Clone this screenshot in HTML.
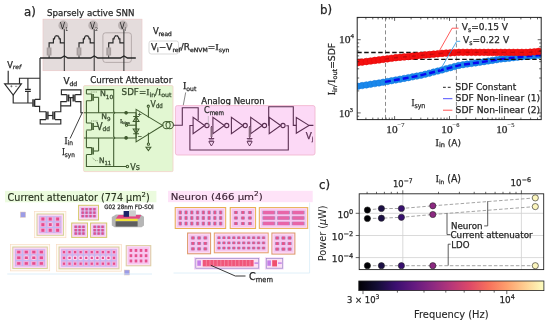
<!DOCTYPE html>
<html><head><meta charset="utf-8"><style>
html,body{margin:0;padding:0;background:#fff;}
body{width:550px;height:323px;overflow:hidden;}
svg{display:block;}
</style></head><body>
<svg width="550" height="323" viewBox="0 0 550 323">
<text x="24" y="15.6" font-size="11.8" font-family="'DejaVu Sans', sans-serif" fill="#262626" text-anchor="start" stroke="#262626" stroke-width="0.25" >a)</text>
<text x="46.9" y="16.2" font-size="9.5" font-family="'DejaVu Sans', sans-serif" fill="#262626" text-anchor="start" textLength="87.6" lengthAdjust="spacingAndGlyphs" stroke="#262626" stroke-width="0.25" >Sparsely active SNN</text>
<rect x="43" y="19.2" width="99" height="51.5" fill="#e4dcdc" stroke="#ebcaca" stroke-width="0.7"/>
<rect x="102.9" y="32.8" width="28.5" height="29.6" rx="2.6" fill="#e5dcdc" stroke="#a99f9f" stroke-width="0.8"/>
<circle cx="63.199999999999996" cy="25.4" r="4.8" fill="#bdb4b4"/>
<line x1="64.3" y1="29.3" x2="64.3" y2="71" stroke="#2a2a2a" stroke-width="1"/>
<text x="60.099999999999994" y="28.9" font-size="8.2" font-family="'DejaVu Sans Condensed', 'DejaVu Sans', sans-serif" fill="#1e1e1e">V<tspan font-size="5.2" dy="1.8">1</tspan></text>
<rect x="46.699999999999996" y="47.5" width="4.8" height="8" fill="#a79e9e"/>
<rect x="48.199999999999996" y="48.5" width="1.8" height="6" fill="#b8b0b0"/>
<path d="M49.099999999999994,47.5 V42.9 H53.39999999999999 V38.9 H54.39999999999999 Q54.599999999999994,35.6 56.849999999999994,35.6 Q59.099999999999994,35.6 59.3,38.9 H60.3 V42.9 H64.3" fill="none" stroke="#262626" stroke-width="1.15"/>
<path d="M55.099999999999994,36 h0.01 M57.099999999999994,35.1 h0.01 M59.099999999999994,36 h0.01" stroke="#e8e0e0" stroke-width="0.8" stroke-linecap="round"/>
<line x1="49.099999999999994" y1="55.5" x2="49.099999999999994" y2="58" stroke="#2a2a2a" stroke-width="0.9"/>
<circle cx="93.10000000000001" cy="25.4" r="4.8" fill="#bdb4b4"/>
<line x1="94.2" y1="29.3" x2="94.2" y2="71" stroke="#2a2a2a" stroke-width="1"/>
<text x="90.0" y="28.9" font-size="8.2" font-family="'DejaVu Sans Condensed', 'DejaVu Sans', sans-serif" fill="#1e1e1e">V<tspan font-size="5.2" dy="1.8">2</tspan></text>
<rect x="76.6" y="47.5" width="4.8" height="8" fill="#a79e9e"/>
<rect x="78.1" y="48.5" width="1.8" height="6" fill="#b8b0b0"/>
<path d="M79.0,47.5 V42.9 H83.3 V38.9 H84.3 Q84.5,35.6 86.75,35.6 Q89.0,35.6 89.2,38.9 H90.2 V42.9 H94.2" fill="none" stroke="#262626" stroke-width="1.15"/>
<path d="M85.0,36 h0.01 M87.0,35.1 h0.01 M89.0,36 h0.01" stroke="#e8e0e0" stroke-width="0.8" stroke-linecap="round"/>
<line x1="79.0" y1="55.5" x2="79.0" y2="58" stroke="#2a2a2a" stroke-width="0.9"/>
<circle cx="122.80000000000001" cy="25.4" r="4.8" fill="#bdb4b4"/>
<line x1="123.9" y1="29.3" x2="123.9" y2="71" stroke="#2a2a2a" stroke-width="1"/>
<text x="119.7" y="28.9" font-size="8.2" font-family="'DejaVu Sans Condensed', 'DejaVu Sans', sans-serif" fill="#1e1e1e">V<tspan font-size="5.2" dy="1.8">i</tspan></text>
<rect x="106.3" y="47.5" width="4.8" height="8" fill="#a79e9e"/>
<rect x="107.8" y="48.5" width="1.8" height="6" fill="#b8b0b0"/>
<path d="M108.7,47.5 V42.9 H113.0 V38.9 H114.0 Q114.2,35.6 116.45,35.6 Q118.7,35.6 118.9,38.9 H119.9 V42.9 H123.9" fill="none" stroke="#262626" stroke-width="1.15"/>
<path d="M114.7,36 h0.01 M116.7,35.1 h0.01 M118.7,36 h0.01" stroke="#e8e0e0" stroke-width="0.8" stroke-linecap="round"/>
<line x1="108.7" y1="55.5" x2="108.7" y2="58" stroke="#2a2a2a" stroke-width="0.9"/>
<path d="M40,58 H60.9 L64.3,55.9 L67.89999999999999,58 H90.8 L94.2,55.9 L97.8,58 H120.5 L123.9,55.9 L127.5,58 H135.8" fill="none" stroke="#262626" stroke-width="1.3"/>
<text x="152.9" y="34.4" font-size="8.7" font-family="'DejaVu Sans Condensed', 'DejaVu Sans', sans-serif" fill="#262626" text-anchor="start" textLength="18.9" lengthAdjust="spacingAndGlyphs" stroke="#262626" stroke-width="0.25" >V<tspan font-size="6.1" dy="1.90">read</tspan></text>
<rect x="149" y="41" width="29.5" height="13" rx="2.2" fill="#fff" stroke="#cfcfcf" stroke-width="0.8"/>
<text x="151" y="49.9" font-size="8.5" font-family="'DejaVu Sans Condensed', 'DejaVu Sans', sans-serif" fill="#262626" text-anchor="start" textLength="78.4" lengthAdjust="spacingAndGlyphs" stroke="#262626" stroke-width="0.25" >V<tspan font-size="5.8" dy="1.90">i</tspan><tspan dy="-1.90">−V</tspan><tspan font-size="5.8" dy="1.90">ref</tspan><tspan dy="-1.90">/R</tspan><tspan font-size="5.8" dy="1.90">eNVM</tspan><tspan dy="-1.90">=</tspan><tspan font-family="Liberation Serif, serif" font-size="9.2">I</tspan><tspan font-size="5.8" dy="1.90">syn</tspan></text>
<text x="7.2" y="67.8" font-size="8.9" font-family="'DejaVu Sans Condensed', 'DejaVu Sans', sans-serif" fill="#262626" text-anchor="start" textLength="13.8" lengthAdjust="spacingAndGlyphs" stroke="#262626" stroke-width="0.25" >V<tspan font-size="5.8" dy="1.60" font-family="'DejaVu Sans'" font-style="italic">ref</tspan></text>
<g stroke="#2a2a2a" stroke-width="1.15" fill="none">
<path d="M8.2,70.8 V83.8"/>
<path d="M4.6,83.8 H21.4 L13.2,95 Z"/>
<path d="M10.3,86.3 h2.2 M11.4,85.2 v2.2 M15,86.3 h2.2" stroke-width="0.5"/>
<path d="M19.5,83.8 V78.2 H40"/>
<path d="M27.9,78.2 V89.1 M25,89.3 H30.8 M25,91.3 H30.8 M27.9,91.4 V103"/>
<path d="M13.2,95 V103 H32.6"/>
<path d="M40,58 V99.4 H35" stroke-width="1.2"/>
<path d="M33,99.3 V106.8" stroke-width="1.5"/>
<path d="M34.6,99.3 V106.8" stroke-width="1.5"/>
<path d="M35,106.4 H39.6 V111.7 H46"/>
<path d="M46.2,111.5 V119.6 M47.9,111.5 V119.6" stroke-width="1.4"/>
<path d="M52.9,111.5 V119.6 M54.6,111.5 V119.6" stroke-width="1.4"/>
<path d="M47.9,115.5 H52.9"/>
<path d="M46,119.6 H40.2 V124 H60.8 V119.6 H55"/>
<path d="M55,111.7 H60.8 V101.6 H66.8"/>
<path d="M67,94.6 V101.6 M68.7,94.6 V101.6" stroke-width="1.4"/>
<path d="M73.2,94.6 V101.6 M74.9,94.6 V101.6" stroke-width="1.4"/>
<path d="M68.7,97.6 H73.2 M70.6,97.6 V105.8 H60.8"/>
<path d="M66.8,94.6 H61.4 V89.8 H80.9 V94.6 H75.2"/>
<path d="M75.2,101.6 H80.9 V112.7 H84"/>
<path d="M82.2,112.7 L70.1,138.5" stroke-width="0.9"/>
</g>
<text x="63.4" y="84" font-size="8.9" font-family="'DejaVu Sans Condensed', 'DejaVu Sans', sans-serif" fill="#262626" text-anchor="start" textLength="13.9" lengthAdjust="spacingAndGlyphs" stroke="#262626" stroke-width="0.25" >V<tspan font-size="6.2" dy="1.60">dd</tspan></text>
<text x="64.5" y="143.7" font-size="9.9" font-family="'Liberation Serif', serif" fill="#262626" text-anchor="start" textLength="8.4" lengthAdjust="spacingAndGlyphs" stroke="#262626" stroke-width="0.25" >I<tspan font-size="6.4" dy="1.70" font-family="'DejaVu Sans', sans-serif">in</tspan></text>
<text x="61.9" y="155" font-size="9.9" font-family="'Liberation Serif', serif" fill="#262626" text-anchor="start" textLength="13" lengthAdjust="spacingAndGlyphs" stroke="#262626" stroke-width="0.25" >I<tspan font-size="6.4" dy="1.70" font-family="'DejaVu Sans', sans-serif">syn</tspan></text>
<text x="90.2" y="82.7" font-size="8.9" font-family="'DejaVu Sans', sans-serif" fill="#262626" text-anchor="start" textLength="82.1" lengthAdjust="spacingAndGlyphs" stroke="#262626" stroke-width="0.25" >Current Attenuator</text>
<rect x="83.6" y="85.6" width="89.4" height="86" rx="1.2" fill="#e2f7d2" stroke="#f3d0c6" stroke-width="0.8"/>
<g stroke="#3f5a2e" stroke-width="1.05" fill="none">
<path d="M86.4,89.6 H113.7 V111.7 q2.2,1.1 0,2.2 V136.8 q2.2,1.1 0,2.2 V166.5"/>
<path d="M86.4,89.6 V93.9 M86.4,100.7 V123 M86.4,130.4 V147.6 M86.4,154.8 V166.5 H126.2"/>
<path d="M84,112.8 H136.1"/>
<path d="M84,137.9 H136.1"/>
<path d="M86.4,93.9 H91.6 M91.6,93.60000000000001 V101.0 M86.4,100.80000000000001 H91.6" />
<path d="M93.1,93.9 V100.80000000000001" stroke-width="1.6"/>
<path d="M93.9,97.30000000000001 H98.6" />
<path d="M86.4,123 H91.6 M91.6,122.7 V130.1 M86.4,129.9 H91.6" />
<path d="M93.1,123 V129.9" stroke-width="1.6"/>
<path d="M93.9,126.4 H98.6" />
<path d="M86.4,147.6 H91.6 M91.6,147.29999999999998 V154.7 M86.4,154.5 H91.6" />
<path d="M93.1,147.6 V154.5" stroke-width="1.6"/>
<path d="M93.9,151.0 H98.6" />
<path d="M98.6,97.3 V112.7 M98.6,137.9 V151"/>
<path d="M90.8,92 H97 M91,121 H97.5 M92.6,157.8 L95,160.6 H97.6" stroke-dasharray="1,0.8" stroke-width="0.6"/>
<circle cx="127.4" cy="166.5" r="1.2" fill="#e2f7d2"/>
<path d="M136.1,109.4 V141.9 L162.6,125.4 Z"/>
<circle cx="126.1" cy="112.8" r="1.3" fill="#3f5a2e"/><circle cx="126.1" cy="137.9" r="1.3" fill="#3f5a2e"/>
<path d="M136.1,112.8 V137.9"/>
<path d="M133.2,121.5 H139 L136.1,116.6 Z M133.2,116.5 H139"/>
<path d="M133.2,128.9 H139 L136.1,133.8 Z M133.2,133.8 H139"/>
<path d="M127.4,125.2 H136.1"/>
<circle cx="126.5" cy="125.2" r="1.1" fill="#e2f7d2"/>
<path d="M148.4,107.3 V117.6 M148.4,132.8 V143.1 M146,147.2 H150.8 L148.4,150.6 Z"/>
<circle cx="148.4" cy="144.2" r="1.1" fill="#e2f7d2"/>
<circle cx="148.3" cy="106.2" r="1.1" fill="#e2f7d2"/>
<circle cx="166.5" cy="125.1" r="3.7"/><circle cx="169.7" cy="125.1" r="3.7"/>
</g>
<text x="137.6" y="116" font-size="5" font-family="'DejaVu Sans', sans-serif" fill="#34472b" text-anchor="start" stroke="#34472b" stroke-width="0.25" >+</text>
<text x="137.8" y="137.6" font-size="5" font-family="'DejaVu Sans', sans-serif" fill="#34472b" text-anchor="start" stroke="#34472b" stroke-width="0.25" >−</text>
<text x="120" y="122.8" font-size="5.8" font-family="'Liberation Serif', serif" fill="#34472b" text-anchor="start" textLength="9.8" lengthAdjust="spacingAndGlyphs" stroke="#34472b" stroke-width="0.25" >I<tspan font-size="4.2" dy="1.20">bias</tspan></text>
<text x="99.9" y="96.4" font-size="7.7" font-family="'DejaVu Sans Condensed', 'DejaVu Sans', sans-serif" fill="#34472b" text-anchor="start" textLength="13.2" lengthAdjust="spacingAndGlyphs" stroke="#34472b" stroke-width="0.25" >N<tspan font-size="5.6" dy="2.20">10</tspan></text>
<text x="101.3" y="118.7" font-size="7.7" font-family="'DejaVu Sans Condensed', 'DejaVu Sans', sans-serif" fill="#34472b" text-anchor="start" textLength="9.3" lengthAdjust="spacingAndGlyphs" stroke="#34472b" stroke-width="0.25" >N<tspan font-size="5.6" dy="2.20">9</tspan></text>
<text x="96.4" y="129.8" font-size="9.6" font-family="'DejaVu Sans Condensed', 'DejaVu Sans', sans-serif" fill="#34472b" text-anchor="start" textLength="13.6" lengthAdjust="spacingAndGlyphs" stroke="#34472b" stroke-width="0.25" >V<tspan font-size="6.4" dy="1.60">dd</tspan></text>
<text x="98.9" y="162.5" font-size="7.7" font-family="'DejaVu Sans Condensed', 'DejaVu Sans', sans-serif" fill="#34472b" text-anchor="start" textLength="12.3" lengthAdjust="spacingAndGlyphs" stroke="#34472b" stroke-width="0.25" >N<tspan font-size="5.6" dy="2.20">11</tspan></text>
<text x="130.2" y="169.7" font-size="9.4" font-family="'DejaVu Sans Condensed', 'DejaVu Sans', sans-serif" fill="#34472b" text-anchor="start" textLength="9.6" lengthAdjust="spacingAndGlyphs" stroke="#34472b" stroke-width="0.25" >Vs</text>
<text x="121.6" y="94.7" font-size="8.4" font-family="'DejaVu Sans', sans-serif" fill="#34472b" text-anchor="start" textLength="49.9" lengthAdjust="spacingAndGlyphs" stroke="#34472b" stroke-width="0.25" >SDF=<tspan font-family="Liberation Serif, serif" font-size="9.2">I</tspan><tspan font-size="6" dy="2.00" font-family="'DejaVu Sans', sans-serif">in</tspan><tspan dy="-2.00">/</tspan><tspan font-family="Liberation Serif, serif" font-size="9.2">I</tspan><tspan font-size="6" dy="2.00" font-family="'DejaVu Sans', sans-serif">out</tspan></text>
<text x="150.6" y="106.6" font-size="9.1" font-family="'DejaVu Sans Condensed', 'DejaVu Sans', sans-serif" fill="#34472b" text-anchor="start" textLength="12.2" lengthAdjust="spacingAndGlyphs" stroke="#34472b" stroke-width="0.25" >V<tspan font-size="6.4" dy="1.80">dd</tspan></text>
<text x="201.3" y="103.5" font-size="8.9" font-family="'DejaVu Sans', sans-serif" fill="#262626" text-anchor="start" textLength="63.5" lengthAdjust="spacingAndGlyphs" stroke="#262626" stroke-width="0.25" >Analog Neuron</text>
<text x="183" y="89.3" font-size="10.2" font-family="'Liberation Serif', serif" fill="#262626" text-anchor="start" textLength="13.3" lengthAdjust="spacingAndGlyphs" stroke="#262626" stroke-width="0.25" >I<tspan font-size="6.2" dy="1.60" font-family="'DejaVu Sans', sans-serif">out</tspan></text>
<path d="M185.7,92.4 L183,106.6" stroke="#555" stroke-width="0.7"/>
<rect x="175.4" y="105.6" width="139.6" height="49.4" rx="2" fill="#fcd9f6" stroke="#f0b2cc" stroke-width="0.8"/>
<g stroke="#5a2f52" stroke-width="1.1" fill="none">
<path d="M173.4,125.2 H182.3 V107.8 H198.2 V120"/>
<path d="M193.1,117.3 V133.6 L204.6,125.5 Z"/>
<circle cx="206.9" cy="125.5" r="2.1"/>
<path d="M212.9,117.3 V133.6 L224.4,125.5 Z"/>
<circle cx="226.70000000000002" cy="125.5" r="2.1"/>
<path d="M231.4,117.3 V133.6 L242.9,125.5 Z"/>
<circle cx="245.20000000000002" cy="125.5" r="2.1"/>
<path d="M250.7,117.3 V133.6 L262.2,125.5 Z"/>
<circle cx="264.5" cy="125.5" r="2.1"/>
<path d="M269.2,117.3 V133.6 L280.7,125.5 Z"/>
<circle cx="283.0" cy="125.5" r="2.1"/>
<path d="M193.1,125.5 H189.9 V150 H288.3 V125.7 H286.3"/>
<path d="M268.7,125.7 V106.8 H293.3 V125.4 H296.3"/>
<path d="M296.3,117.5 V133.3 L309,125.4 Z M309,125.4 H313.4"/>
<path d="M211.5,126 V138.4 M208.6,138.5 H214.2 M209.1,140 H213.7 M208.8,141.6 H214 L211.4,146 Z" stroke-width="0.9"/>
<path d="M211.5,127 V137" stroke="#8a6a80" stroke-width="2"/>
<path d="M249.7,126 V138.4 M246.79999999999998,138.5 H252.39999999999998 M247.29999999999998,140 H251.89999999999998 M247.0,141.6 H252.2 L249.6,146 Z" stroke-width="0.9"/>
<path d="M249.7,127 V137" stroke="#8a6a80" stroke-width="2"/>
</g>
<path d="M208.3,116 V126" stroke="#aaa" stroke-width="0.6"/>
<text x="204" y="113.4" font-size="9.3" font-family="'DejaVu Sans', sans-serif" fill="#262626" text-anchor="start" textLength="20" lengthAdjust="spacingAndGlyphs" stroke="#262626" stroke-width="0.25" >C<tspan font-size="6.4" dy="1.90">mem</tspan></text>
<text x="305.8" y="139.2" font-size="8.8" font-family="'DejaVu Sans Condensed', 'DejaVu Sans', sans-serif" fill="#5a2f52" text-anchor="start" textLength="7.6" lengthAdjust="spacingAndGlyphs" stroke="#5a2f52" stroke-width="0.25" >V<tspan font-size="5.6" dy="1.60">j</tspan></text>
<rect x="5" y="190.9" width="151.4" height="11.4" fill="#ebfbde"/>
<text x="7.6" y="201.1" font-size="9.6" font-family="'DejaVu Sans', sans-serif" fill="#28331f" text-anchor="start" textLength="142.1" lengthAdjust="spacingAndGlyphs" stroke="#28331f" stroke-width="0.15" >Current attenuator (774 µm<tspan font-size="6.8" dy="-3.9">2</tspan><tspan dy="3.9">)</tspan></text>
<rect x="168" y="190.8" width="144.7" height="11.4" fill="#fee3f8"/>
<text x="170.7" y="199.8" font-size="9.5" font-family="'DejaVu Sans', sans-serif" fill="#3a2233" text-anchor="start" textLength="92" lengthAdjust="spacingAndGlyphs" stroke="#3a2233" stroke-width="0.12" >Neuron (466 µm<tspan font-size="6.8" dy="-3.9">2</tspan><tspan dy="3.9">)</tspan></text>
<text x="104.2" y="209.1" font-size="6.0" font-family="'DejaVu Sans', sans-serif" fill="#262626" text-anchor="start" textLength="49.4" lengthAdjust="spacingAndGlyphs" stroke="#262626" stroke-width="0.25" >G02 28nm FD-SOI</text>
<rect x="20.4" y="212" width="5.2" height="5.3" fill="#9c9ce6" stroke="#e2c8b4" stroke-width="0.5"/>
<rect x="34.6" y="211.6" width="31.3" height="26.100000000000012" fill="#fffaf4" stroke="#f8dcc2" stroke-width="0.7"/>
<rect x="37" y="214" width="26.5" height="21.30000000000001" fill="#f7c6ef" stroke="#d6d59a" stroke-width="1"/>
<rect x="38.2" y="215.2" width="24.1" height="18.900000000000013" fill="none" stroke="#fde6f8" stroke-width="0.7"/>
<rect x="39.20" y="216.20" width="22.10" height="16.90" fill="#c0b8f4"/>
<rect x="39.94" y="216.76" width="5.89" height="4.51" fill="#f2b0dc"/>
<rect x="39.94" y="222.40" width="5.89" height="4.51" fill="#f2b0dc"/>
<rect x="39.94" y="228.03" width="5.89" height="4.51" fill="#f2b0dc"/>
<rect x="47.30" y="216.76" width="5.89" height="4.51" fill="#f2b0dc"/>
<rect x="47.30" y="222.40" width="5.89" height="4.51" fill="#f2b0dc"/>
<circle cx="50.25" cy="224.65" r="2.37" fill="#fbd8f2"/>
<rect x="47.30" y="228.03" width="5.89" height="4.51" fill="#f2b0dc"/>
<rect x="54.67" y="216.76" width="5.89" height="4.51" fill="#f2b0dc"/>
<rect x="54.67" y="222.40" width="5.89" height="4.51" fill="#f2b0dc"/>
<rect x="54.67" y="228.03" width="5.89" height="4.51" fill="#f2b0dc"/>
<rect x="41.38" y="217.52" width="3.00" height="3.00" fill="#e64b8e"/>
<rect x="41.38" y="223.15" width="3.00" height="3.00" fill="#e64b8e"/>
<rect x="41.38" y="228.78" width="3.00" height="3.00" fill="#e64b8e"/>
<rect x="48.75" y="217.52" width="3.00" height="3.00" fill="#e64b8e"/>
<rect x="48.75" y="223.15" width="3.00" height="3.00" fill="#e64b8e"/>
<rect x="48.75" y="228.78" width="3.00" height="3.00" fill="#e64b8e"/>
<rect x="56.12" y="217.52" width="3.00" height="3.00" fill="#e64b8e"/>
<rect x="56.12" y="223.15" width="3.00" height="3.00" fill="#e64b8e"/>
<rect x="56.12" y="228.78" width="3.00" height="3.00" fill="#e64b8e"/>
<rect x="78.6" y="205.3" width="19.900000000000006" height="14.699999999999989" fill="#f7c6ef" stroke="#d4cc6c" stroke-width="1"/>
<rect x="79.8" y="206.5" width="17.500000000000007" height="12.299999999999988" fill="none" stroke="#fde6f8" stroke-width="0.7"/>
<rect x="80.99" y="208.02" width="3.50" height="2.40" fill="#a8a0d8"/>
<rect x="81.69" y="208.02" width="2.10" height="2.40" fill="#e64b8e"/>
<rect x="80.99" y="211.45" width="3.50" height="2.40" fill="#a8a0d8"/>
<rect x="81.69" y="211.45" width="2.10" height="2.40" fill="#e64b8e"/>
<rect x="80.99" y="214.88" width="3.50" height="2.40" fill="#a8a0d8"/>
<rect x="81.69" y="214.88" width="2.10" height="2.40" fill="#e64b8e"/>
<rect x="84.86" y="208.02" width="3.50" height="2.40" fill="#a8a0d8"/>
<rect x="85.56" y="208.02" width="2.10" height="2.40" fill="#e64b8e"/>
<rect x="84.86" y="211.45" width="3.50" height="2.40" fill="#a8a0d8"/>
<rect x="85.56" y="211.45" width="2.10" height="2.40" fill="#e64b8e"/>
<rect x="84.86" y="214.88" width="3.50" height="2.40" fill="#a8a0d8"/>
<rect x="85.56" y="214.88" width="2.10" height="2.40" fill="#e64b8e"/>
<rect x="88.74" y="208.02" width="3.50" height="2.40" fill="#a8a0d8"/>
<rect x="89.44" y="208.02" width="2.10" height="2.40" fill="#e64b8e"/>
<rect x="88.74" y="211.45" width="3.50" height="2.40" fill="#a8a0d8"/>
<rect x="89.44" y="211.45" width="2.10" height="2.40" fill="#e64b8e"/>
<rect x="88.74" y="214.88" width="3.50" height="2.40" fill="#a8a0d8"/>
<rect x="89.44" y="214.88" width="2.10" height="2.40" fill="#e64b8e"/>
<rect x="92.61" y="208.02" width="3.50" height="2.40" fill="#a8a0d8"/>
<rect x="93.31" y="208.02" width="2.10" height="2.40" fill="#e64b8e"/>
<rect x="92.61" y="211.45" width="3.50" height="2.40" fill="#a8a0d8"/>
<rect x="93.31" y="211.45" width="2.10" height="2.40" fill="#e64b8e"/>
<rect x="92.61" y="214.88" width="3.50" height="2.40" fill="#a8a0d8"/>
<rect x="93.31" y="214.88" width="2.10" height="2.40" fill="#e64b8e"/>
<rect x="71.7" y="223" width="15.799999999999997" height="14.400000000000006" fill="#f7c6ef" stroke="#d4cc6c" stroke-width="1"/>
<rect x="72.9" y="224.2" width="13.399999999999997" height="12.000000000000005" fill="none" stroke="#fde6f8" stroke-width="0.7"/>
<rect x="74.05" y="225.67" width="3.50" height="2.40" fill="#a8a0d8"/>
<rect x="74.75" y="225.67" width="2.10" height="2.40" fill="#e64b8e"/>
<rect x="74.05" y="229.00" width="3.50" height="2.40" fill="#a8a0d8"/>
<rect x="74.75" y="229.00" width="2.10" height="2.40" fill="#e64b8e"/>
<rect x="74.05" y="232.33" width="3.50" height="2.40" fill="#a8a0d8"/>
<rect x="74.75" y="232.33" width="2.10" height="2.40" fill="#e64b8e"/>
<rect x="77.85" y="225.67" width="3.50" height="2.40" fill="#a8a0d8"/>
<rect x="78.55" y="225.67" width="2.10" height="2.40" fill="#e64b8e"/>
<rect x="77.85" y="229.00" width="3.50" height="2.40" fill="#a8a0d8"/>
<rect x="78.55" y="229.00" width="2.10" height="2.40" fill="#e64b8e"/>
<rect x="77.85" y="232.33" width="3.50" height="2.40" fill="#a8a0d8"/>
<rect x="78.55" y="232.33" width="2.10" height="2.40" fill="#e64b8e"/>
<rect x="81.65" y="225.67" width="3.50" height="2.40" fill="#a8a0d8"/>
<rect x="82.35" y="225.67" width="2.10" height="2.40" fill="#e64b8e"/>
<rect x="81.65" y="229.00" width="3.50" height="2.40" fill="#a8a0d8"/>
<rect x="82.35" y="229.00" width="2.10" height="2.40" fill="#e64b8e"/>
<rect x="81.65" y="232.33" width="3.50" height="2.40" fill="#a8a0d8"/>
<rect x="82.35" y="232.33" width="2.10" height="2.40" fill="#e64b8e"/>
<rect x="90.6" y="223" width="16.10000000000001" height="14.400000000000006" fill="#f7c6ef" stroke="#d4cc6c" stroke-width="1"/>
<rect x="91.8" y="224.2" width="13.700000000000008" height="12.000000000000005" fill="none" stroke="#fde6f8" stroke-width="0.7"/>
<rect x="93.00" y="225.67" width="3.50" height="2.40" fill="#a8a0d8"/>
<rect x="93.70" y="225.67" width="2.10" height="2.40" fill="#e64b8e"/>
<rect x="93.00" y="229.00" width="3.50" height="2.40" fill="#a8a0d8"/>
<rect x="93.70" y="229.00" width="2.10" height="2.40" fill="#e64b8e"/>
<rect x="93.00" y="232.33" width="3.50" height="2.40" fill="#a8a0d8"/>
<rect x="93.70" y="232.33" width="2.10" height="2.40" fill="#e64b8e"/>
<rect x="96.90" y="225.67" width="3.50" height="2.40" fill="#a8a0d8"/>
<rect x="97.60" y="225.67" width="2.10" height="2.40" fill="#e64b8e"/>
<rect x="96.90" y="229.00" width="3.50" height="2.40" fill="#a8a0d8"/>
<rect x="97.60" y="229.00" width="2.10" height="2.40" fill="#e64b8e"/>
<rect x="96.90" y="232.33" width="3.50" height="2.40" fill="#a8a0d8"/>
<rect x="97.60" y="232.33" width="2.10" height="2.40" fill="#e64b8e"/>
<rect x="100.80" y="225.67" width="3.50" height="2.40" fill="#a8a0d8"/>
<rect x="101.50" y="225.67" width="2.10" height="2.40" fill="#e64b8e"/>
<rect x="100.80" y="229.00" width="3.50" height="2.40" fill="#a8a0d8"/>
<rect x="101.50" y="229.00" width="2.10" height="2.40" fill="#e64b8e"/>
<rect x="100.80" y="232.33" width="3.50" height="2.40" fill="#a8a0d8"/>
<rect x="101.50" y="232.33" width="2.10" height="2.40" fill="#e64b8e"/>
<rect x="10.4" y="244.6" width="39.3" height="26.3" fill="#fffaf4" stroke="#f8dcc2" stroke-width="0.7"/>
<rect x="12.8" y="247" width="34.5" height="21.5" fill="#f7c6ef" stroke="#d6d59a" stroke-width="1"/>
<rect x="14.0" y="248.2" width="32.1" height="19.1" fill="none" stroke="#fde6f8" stroke-width="0.7"/>
<rect x="15.00" y="249.20" width="30.10" height="17.10" fill="#c0b8f4"/>
<rect x="15.75" y="249.77" width="6.02" height="4.56" fill="#f2b0dc"/>
<rect x="15.75" y="255.47" width="6.02" height="4.56" fill="#f2b0dc"/>
<rect x="15.75" y="261.17" width="6.02" height="4.56" fill="#f2b0dc"/>
<rect x="23.28" y="249.77" width="6.02" height="4.56" fill="#f2b0dc"/>
<rect x="23.28" y="255.47" width="6.02" height="4.56" fill="#f2b0dc"/>
<circle cx="26.29" cy="257.75" r="2.39" fill="#fbd8f2"/>
<rect x="23.28" y="261.17" width="6.02" height="4.56" fill="#f2b0dc"/>
<rect x="30.80" y="249.77" width="6.02" height="4.56" fill="#f2b0dc"/>
<rect x="30.80" y="255.47" width="6.02" height="4.56" fill="#f2b0dc"/>
<circle cx="33.81" cy="257.75" r="2.39" fill="#fbd8f2"/>
<rect x="30.80" y="261.17" width="6.02" height="4.56" fill="#f2b0dc"/>
<rect x="38.33" y="249.77" width="6.02" height="4.56" fill="#f2b0dc"/>
<rect x="38.33" y="255.47" width="6.02" height="4.56" fill="#f2b0dc"/>
<rect x="38.33" y="261.17" width="6.02" height="4.56" fill="#f2b0dc"/>
<rect x="17.16" y="250.75" width="3.20" height="2.60" fill="#e64b8e"/>
<rect x="17.16" y="256.45" width="3.20" height="2.60" fill="#e64b8e"/>
<rect x="17.16" y="262.15" width="3.20" height="2.60" fill="#e64b8e"/>
<rect x="24.69" y="250.75" width="3.20" height="2.60" fill="#e64b8e"/>
<rect x="24.69" y="256.45" width="3.20" height="2.60" fill="#e64b8e"/>
<rect x="24.69" y="262.15" width="3.20" height="2.60" fill="#e64b8e"/>
<rect x="32.21" y="250.75" width="3.20" height="2.60" fill="#e64b8e"/>
<rect x="32.21" y="256.45" width="3.20" height="2.60" fill="#e64b8e"/>
<rect x="32.21" y="262.15" width="3.20" height="2.60" fill="#e64b8e"/>
<rect x="39.74" y="250.75" width="3.20" height="2.60" fill="#e64b8e"/>
<rect x="39.74" y="256.45" width="3.20" height="2.60" fill="#e64b8e"/>
<rect x="39.74" y="262.15" width="3.20" height="2.60" fill="#e64b8e"/>
<rect x="56.6" y="244.6" width="64.8" height="26.600000000000012" fill="#fffaf4" stroke="#f8dcc2" stroke-width="0.7"/>
<rect x="59" y="247" width="60" height="21.80000000000001" fill="#f7c6ef" stroke="#d6d59a" stroke-width="1"/>
<rect x="60.2" y="248.2" width="57.6" height="19.400000000000013" fill="none" stroke="#fde6f8" stroke-width="0.7"/>
<rect x="61.20" y="249.20" width="55.60" height="17.40" fill="#c0b8f4"/>
<rect x="61.76" y="249.78" width="4.45" height="4.64" fill="#f2b0dc"/>
<rect x="61.76" y="255.58" width="4.45" height="4.64" fill="#f2b0dc"/>
<rect x="61.76" y="261.38" width="4.45" height="4.64" fill="#f2b0dc"/>
<rect x="67.32" y="249.78" width="4.45" height="4.64" fill="#f2b0dc"/>
<rect x="67.32" y="255.58" width="4.45" height="4.64" fill="#f2b0dc"/>
<circle cx="69.54" cy="257.90" r="2.34" fill="#fbd8f2"/>
<rect x="67.32" y="261.38" width="4.45" height="4.64" fill="#f2b0dc"/>
<rect x="72.88" y="249.78" width="4.45" height="4.64" fill="#f2b0dc"/>
<rect x="72.88" y="255.58" width="4.45" height="4.64" fill="#f2b0dc"/>
<circle cx="75.10" cy="257.90" r="2.34" fill="#fbd8f2"/>
<rect x="72.88" y="261.38" width="4.45" height="4.64" fill="#f2b0dc"/>
<rect x="78.44" y="249.78" width="4.45" height="4.64" fill="#f2b0dc"/>
<rect x="78.44" y="255.58" width="4.45" height="4.64" fill="#f2b0dc"/>
<circle cx="80.66" cy="257.90" r="2.34" fill="#fbd8f2"/>
<rect x="78.44" y="261.38" width="4.45" height="4.64" fill="#f2b0dc"/>
<rect x="84.00" y="249.78" width="4.45" height="4.64" fill="#f2b0dc"/>
<rect x="84.00" y="255.58" width="4.45" height="4.64" fill="#f2b0dc"/>
<circle cx="86.22" cy="257.90" r="2.34" fill="#fbd8f2"/>
<rect x="84.00" y="261.38" width="4.45" height="4.64" fill="#f2b0dc"/>
<rect x="89.56" y="249.78" width="4.45" height="4.64" fill="#f2b0dc"/>
<rect x="89.56" y="255.58" width="4.45" height="4.64" fill="#f2b0dc"/>
<circle cx="91.78" cy="257.90" r="2.34" fill="#fbd8f2"/>
<rect x="89.56" y="261.38" width="4.45" height="4.64" fill="#f2b0dc"/>
<rect x="95.12" y="249.78" width="4.45" height="4.64" fill="#f2b0dc"/>
<rect x="95.12" y="255.58" width="4.45" height="4.64" fill="#f2b0dc"/>
<circle cx="97.34" cy="257.90" r="2.34" fill="#fbd8f2"/>
<rect x="95.12" y="261.38" width="4.45" height="4.64" fill="#f2b0dc"/>
<rect x="100.68" y="249.78" width="4.45" height="4.64" fill="#f2b0dc"/>
<rect x="100.68" y="255.58" width="4.45" height="4.64" fill="#f2b0dc"/>
<circle cx="102.90" cy="257.90" r="2.34" fill="#fbd8f2"/>
<rect x="100.68" y="261.38" width="4.45" height="4.64" fill="#f2b0dc"/>
<rect x="106.24" y="249.78" width="4.45" height="4.64" fill="#f2b0dc"/>
<rect x="106.24" y="255.58" width="4.45" height="4.64" fill="#f2b0dc"/>
<circle cx="108.46" cy="257.90" r="2.34" fill="#fbd8f2"/>
<rect x="106.24" y="261.38" width="4.45" height="4.64" fill="#f2b0dc"/>
<rect x="111.80" y="249.78" width="4.45" height="4.64" fill="#f2b0dc"/>
<rect x="111.80" y="255.58" width="4.45" height="4.64" fill="#f2b0dc"/>
<rect x="111.80" y="261.38" width="4.45" height="4.64" fill="#f2b0dc"/>
<rect x="62.88" y="251.00" width="2.20" height="2.20" fill="#e64b8e"/>
<rect x="62.88" y="256.80" width="2.20" height="2.20" fill="#e64b8e"/>
<rect x="62.88" y="262.60" width="2.20" height="2.20" fill="#e64b8e"/>
<rect x="68.44" y="251.00" width="2.20" height="2.20" fill="#e64b8e"/>
<rect x="68.44" y="256.80" width="2.20" height="2.20" fill="#e64b8e"/>
<rect x="68.44" y="262.60" width="2.20" height="2.20" fill="#e64b8e"/>
<rect x="74.00" y="251.00" width="2.20" height="2.20" fill="#e64b8e"/>
<rect x="74.00" y="256.80" width="2.20" height="2.20" fill="#e64b8e"/>
<rect x="74.00" y="262.60" width="2.20" height="2.20" fill="#e64b8e"/>
<rect x="79.56" y="251.00" width="2.20" height="2.20" fill="#e64b8e"/>
<rect x="79.56" y="256.80" width="2.20" height="2.20" fill="#e64b8e"/>
<rect x="79.56" y="262.60" width="2.20" height="2.20" fill="#e64b8e"/>
<rect x="85.12" y="251.00" width="2.20" height="2.20" fill="#e64b8e"/>
<rect x="85.12" y="256.80" width="2.20" height="2.20" fill="#e64b8e"/>
<rect x="85.12" y="262.60" width="2.20" height="2.20" fill="#e64b8e"/>
<rect x="90.68" y="251.00" width="2.20" height="2.20" fill="#e64b8e"/>
<rect x="90.68" y="256.80" width="2.20" height="2.20" fill="#e64b8e"/>
<rect x="90.68" y="262.60" width="2.20" height="2.20" fill="#e64b8e"/>
<rect x="96.24" y="251.00" width="2.20" height="2.20" fill="#e64b8e"/>
<rect x="96.24" y="256.80" width="2.20" height="2.20" fill="#e64b8e"/>
<rect x="96.24" y="262.60" width="2.20" height="2.20" fill="#e64b8e"/>
<rect x="101.80" y="251.00" width="2.20" height="2.20" fill="#e64b8e"/>
<rect x="101.80" y="256.80" width="2.20" height="2.20" fill="#e64b8e"/>
<rect x="101.80" y="262.60" width="2.20" height="2.20" fill="#e64b8e"/>
<rect x="107.36" y="251.00" width="2.20" height="2.20" fill="#e64b8e"/>
<rect x="107.36" y="256.80" width="2.20" height="2.20" fill="#e64b8e"/>
<rect x="107.36" y="262.60" width="2.20" height="2.20" fill="#e64b8e"/>
<rect x="112.92" y="251.00" width="2.20" height="2.20" fill="#e64b8e"/>
<rect x="112.92" y="256.80" width="2.20" height="2.20" fill="#e64b8e"/>
<rect x="112.92" y="262.60" width="2.20" height="2.20" fill="#e64b8e"/>
<rect x="126.2" y="245.6" width="24.60000000000001" height="20.200000000000017" fill="#f7c6ef" stroke="#dcd0a0" stroke-width="1"/>
<rect x="127.4" y="246.79999999999998" width="22.20000000000001" height="17.80000000000002" fill="none" stroke="#fde6f8" stroke-width="0.7"/>
<rect x="129.62" y="248.98" width="2.60" height="2.90" fill="#e6508e"/>
<rect x="129.62" y="254.25" width="2.60" height="2.90" fill="#e6508e"/>
<rect x="129.62" y="259.52" width="2.60" height="2.90" fill="#e6508e"/>
<rect x="134.68" y="248.98" width="2.60" height="2.90" fill="#e6508e"/>
<rect x="134.68" y="254.25" width="2.60" height="2.90" fill="#e6508e"/>
<rect x="134.68" y="259.52" width="2.60" height="2.90" fill="#e6508e"/>
<rect x="139.72" y="248.98" width="2.60" height="2.90" fill="#e6508e"/>
<rect x="139.72" y="254.25" width="2.60" height="2.90" fill="#e6508e"/>
<rect x="139.72" y="259.52" width="2.60" height="2.90" fill="#e6508e"/>
<rect x="144.78" y="248.98" width="2.60" height="2.90" fill="#e6508e"/>
<rect x="144.78" y="254.25" width="2.60" height="2.90" fill="#e6508e"/>
<rect x="144.78" y="259.52" width="2.60" height="2.90" fill="#e6508e"/>
<rect x="124.2" y="270" width="5.4" height="5" fill="#9c9ce6" stroke="#e2c8b4" stroke-width="0.5"/>
<path d="M7.3,274 H152" stroke="#d4eaf8" stroke-width="0.8"/>
<path d="M111.8,217 L116,214.5 H140.5 L144,216.8 V225.6 L141.5,227.3 H114.6 L111.8,225.6 Z" fill="#b6b6b6"/>
<path d="M115.6,218.8 L118.6,215 H141.2 L139.3,218.8 Z" fill="#e24682"/>
<rect x="115.6" y="218.8" width="22" height="2.5" fill="#f0e23a"/>
<rect x="115.6" y="221.3" width="22" height="5.2" fill="#5e5e5e"/>
<rect x="129" y="210.4" width="6.9" height="6" fill="#cdcdcd"/>
<rect x="123.6" y="211" width="5.4" height="5.8" fill="#1c2468"/>
<path d="M173.6,273 H309.6 V202.6" stroke="#d8ecf8" stroke-width="0.8" fill="none"/>
<rect x="175.2" y="207.5" width="50.5" height="21.0" fill="#f7c6ef" stroke="#e8b050" stroke-width="1"/>
<rect x="176.39999999999998" y="208.7" width="48.1" height="18.6" fill="none" stroke="#fde6f8" stroke-width="0.7"/>
<rect x="178.58" y="210.77" width="3.40" height="3.40" fill="#9b98c8"/>
<rect x="179.28" y="210.77" width="2.00" height="3.40" fill="#e8528a"/>
<rect x="178.58" y="216.30" width="3.40" height="3.40" fill="#9b98c8"/>
<rect x="179.28" y="216.30" width="2.00" height="3.40" fill="#e8528a"/>
<rect x="178.58" y="221.83" width="3.40" height="3.40" fill="#9b98c8"/>
<rect x="179.28" y="221.83" width="2.00" height="3.40" fill="#e8528a"/>
<rect x="184.34" y="210.77" width="3.40" height="3.40" fill="#9b98c8"/>
<rect x="185.04" y="210.77" width="2.00" height="3.40" fill="#e8528a"/>
<rect x="184.34" y="216.30" width="3.40" height="3.40" fill="#9b98c8"/>
<rect x="185.04" y="216.30" width="2.00" height="3.40" fill="#e8528a"/>
<rect x="184.34" y="221.83" width="3.40" height="3.40" fill="#9b98c8"/>
<rect x="185.04" y="221.83" width="2.00" height="3.40" fill="#e8528a"/>
<rect x="190.11" y="210.77" width="3.40" height="3.40" fill="#9b98c8"/>
<rect x="190.81" y="210.77" width="2.00" height="3.40" fill="#e8528a"/>
<rect x="190.11" y="216.30" width="3.40" height="3.40" fill="#9b98c8"/>
<rect x="190.81" y="216.30" width="2.00" height="3.40" fill="#e8528a"/>
<rect x="190.11" y="221.83" width="3.40" height="3.40" fill="#9b98c8"/>
<rect x="190.81" y="221.83" width="2.00" height="3.40" fill="#e8528a"/>
<rect x="195.87" y="210.77" width="3.40" height="3.40" fill="#9b98c8"/>
<rect x="196.57" y="210.77" width="2.00" height="3.40" fill="#e8528a"/>
<rect x="195.87" y="216.30" width="3.40" height="3.40" fill="#9b98c8"/>
<rect x="196.57" y="216.30" width="2.00" height="3.40" fill="#e8528a"/>
<rect x="195.87" y="221.83" width="3.40" height="3.40" fill="#9b98c8"/>
<rect x="196.57" y="221.83" width="2.00" height="3.40" fill="#e8528a"/>
<rect x="201.63" y="210.77" width="3.40" height="3.40" fill="#9b98c8"/>
<rect x="202.33" y="210.77" width="2.00" height="3.40" fill="#e8528a"/>
<rect x="201.63" y="216.30" width="3.40" height="3.40" fill="#9b98c8"/>
<rect x="202.33" y="216.30" width="2.00" height="3.40" fill="#e8528a"/>
<rect x="201.63" y="221.83" width="3.40" height="3.40" fill="#9b98c8"/>
<rect x="202.33" y="221.83" width="2.00" height="3.40" fill="#e8528a"/>
<rect x="207.39" y="210.77" width="3.40" height="3.40" fill="#9b98c8"/>
<rect x="208.09" y="210.77" width="2.00" height="3.40" fill="#e8528a"/>
<rect x="207.39" y="216.30" width="3.40" height="3.40" fill="#9b98c8"/>
<rect x="208.09" y="216.30" width="2.00" height="3.40" fill="#e8528a"/>
<rect x="207.39" y="221.83" width="3.40" height="3.40" fill="#9b98c8"/>
<rect x="208.09" y="221.83" width="2.00" height="3.40" fill="#e8528a"/>
<rect x="213.16" y="210.77" width="3.40" height="3.40" fill="#9b98c8"/>
<rect x="213.86" y="210.77" width="2.00" height="3.40" fill="#e8528a"/>
<rect x="213.16" y="216.30" width="3.40" height="3.40" fill="#9b98c8"/>
<rect x="213.86" y="216.30" width="2.00" height="3.40" fill="#e8528a"/>
<rect x="213.16" y="221.83" width="3.40" height="3.40" fill="#9b98c8"/>
<rect x="213.86" y="221.83" width="2.00" height="3.40" fill="#e8528a"/>
<rect x="218.92" y="210.77" width="3.40" height="3.40" fill="#9b98c8"/>
<rect x="219.62" y="210.77" width="2.00" height="3.40" fill="#e8528a"/>
<rect x="218.92" y="216.30" width="3.40" height="3.40" fill="#9b98c8"/>
<rect x="219.62" y="216.30" width="2.00" height="3.40" fill="#e8528a"/>
<rect x="218.92" y="221.83" width="3.40" height="3.40" fill="#9b98c8"/>
<rect x="219.62" y="221.83" width="2.00" height="3.40" fill="#e8528a"/>
<rect x="230.2" y="207.5" width="25.400000000000006" height="21.0" fill="#f7c6ef" stroke="#e8b050" stroke-width="1"/>
<rect x="231.39999999999998" y="208.7" width="23.000000000000007" height="18.6" fill="none" stroke="#fde6f8" stroke-width="0.7"/>
<rect x="233.90" y="211.07" width="4.00" height="2.80" fill="#9b98c8"/>
<rect x="234.60" y="211.07" width="2.60" height="2.80" fill="#e8528a"/>
<rect x="233.90" y="216.60" width="4.00" height="2.80" fill="#9b98c8"/>
<rect x="234.60" y="216.60" width="2.60" height="2.80" fill="#e8528a"/>
<rect x="233.90" y="222.13" width="4.00" height="2.80" fill="#9b98c8"/>
<rect x="234.60" y="222.13" width="2.60" height="2.80" fill="#e8528a"/>
<rect x="240.90" y="211.07" width="4.00" height="2.80" fill="#9b98c8"/>
<rect x="241.60" y="211.07" width="2.60" height="2.80" fill="#e8528a"/>
<rect x="240.90" y="216.60" width="4.00" height="2.80" fill="#9b98c8"/>
<rect x="241.60" y="216.60" width="2.60" height="2.80" fill="#e8528a"/>
<rect x="240.90" y="222.13" width="4.00" height="2.80" fill="#9b98c8"/>
<rect x="241.60" y="222.13" width="2.60" height="2.80" fill="#e8528a"/>
<rect x="247.90" y="211.07" width="4.00" height="2.80" fill="#9b98c8"/>
<rect x="248.60" y="211.07" width="2.60" height="2.80" fill="#e8528a"/>
<rect x="247.90" y="216.60" width="4.00" height="2.80" fill="#9b98c8"/>
<rect x="248.60" y="216.60" width="2.60" height="2.80" fill="#e8528a"/>
<rect x="247.90" y="222.13" width="4.00" height="2.80" fill="#9b98c8"/>
<rect x="248.60" y="222.13" width="2.60" height="2.80" fill="#e8528a"/>
<rect x="259.3" y="207.6" width="48.39999999999998" height="20.80000000000001" fill="#f7c6ef" stroke="#e8b050" stroke-width="1"/>
<rect x="260.5" y="208.79999999999998" width="45.99999999999998" height="18.400000000000013" fill="none" stroke="#fde6f8" stroke-width="0.7"/>
<rect x="262.43" y="210.88" width="12.80" height="3.30" fill="#9b98c8"/>
<rect x="263.13" y="210.88" width="11.40" height="3.30" fill="#e865a8"/>
<rect x="262.43" y="216.35" width="12.80" height="3.30" fill="#9b98c8"/>
<rect x="263.13" y="216.35" width="11.40" height="3.30" fill="#e865a8"/>
<rect x="262.43" y="221.82" width="12.80" height="3.30" fill="#9b98c8"/>
<rect x="263.13" y="221.82" width="11.40" height="3.30" fill="#e865a8"/>
<rect x="277.10" y="210.88" width="12.80" height="3.30" fill="#9b98c8"/>
<rect x="277.80" y="210.88" width="11.40" height="3.30" fill="#e865a8"/>
<rect x="277.10" y="216.35" width="12.80" height="3.30" fill="#9b98c8"/>
<rect x="277.80" y="216.35" width="11.40" height="3.30" fill="#e865a8"/>
<rect x="277.10" y="221.82" width="12.80" height="3.30" fill="#9b98c8"/>
<rect x="277.80" y="221.82" width="11.40" height="3.30" fill="#e865a8"/>
<rect x="291.77" y="210.88" width="12.80" height="3.30" fill="#9b98c8"/>
<rect x="292.47" y="210.88" width="11.40" height="3.30" fill="#e865a8"/>
<rect x="291.77" y="216.35" width="12.80" height="3.30" fill="#9b98c8"/>
<rect x="292.47" y="216.35" width="11.40" height="3.30" fill="#e865a8"/>
<rect x="291.77" y="221.82" width="12.80" height="3.30" fill="#9b98c8"/>
<rect x="292.47" y="221.82" width="11.40" height="3.30" fill="#e865a8"/>
<rect x="187.6" y="233" width="23.0" height="20.80000000000001" fill="#f7c6ef" stroke="#dc9a66" stroke-width="1"/>
<rect x="188.79999999999998" y="234.2" width="20.6" height="18.400000000000013" fill="none" stroke="#fde6f8" stroke-width="0.7"/>
<rect x="190.90" y="236.53" width="4.00" height="2.80" fill="#9b98c8"/>
<rect x="191.60" y="236.53" width="2.60" height="2.80" fill="#e8528a"/>
<rect x="190.90" y="242.00" width="4.00" height="2.80" fill="#9b98c8"/>
<rect x="191.60" y="242.00" width="2.60" height="2.80" fill="#e8528a"/>
<rect x="190.90" y="247.47" width="4.00" height="2.80" fill="#9b98c8"/>
<rect x="191.60" y="247.47" width="2.60" height="2.80" fill="#e8528a"/>
<rect x="197.10" y="236.53" width="4.00" height="2.80" fill="#9b98c8"/>
<rect x="197.80" y="236.53" width="2.60" height="2.80" fill="#e8528a"/>
<rect x="197.10" y="242.00" width="4.00" height="2.80" fill="#9b98c8"/>
<rect x="197.80" y="242.00" width="2.60" height="2.80" fill="#e8528a"/>
<rect x="197.10" y="247.47" width="4.00" height="2.80" fill="#9b98c8"/>
<rect x="197.80" y="247.47" width="2.60" height="2.80" fill="#e8528a"/>
<rect x="203.30" y="236.53" width="4.00" height="2.80" fill="#9b98c8"/>
<rect x="204.00" y="236.53" width="2.60" height="2.80" fill="#e8528a"/>
<rect x="203.30" y="242.00" width="4.00" height="2.80" fill="#9b98c8"/>
<rect x="204.00" y="242.00" width="2.60" height="2.80" fill="#e8528a"/>
<rect x="203.30" y="247.47" width="4.00" height="2.80" fill="#9b98c8"/>
<rect x="204.00" y="247.47" width="2.60" height="2.80" fill="#e8528a"/>
<rect x="214.3" y="233" width="53.89999999999998" height="19.80000000000001" fill="#f7c6ef" stroke="#e6a468" stroke-width="1"/>
<rect x="215.5" y="234.2" width="51.49999999999998" height="17.400000000000013" fill="none" stroke="#fde6f8" stroke-width="0.7"/>
<rect x="217.22" y="236.57" width="3.50" height="2.40" fill="#9b98c8"/>
<rect x="217.92" y="236.57" width="2.10" height="2.40" fill="#e8528a"/>
<rect x="217.22" y="241.70" width="3.50" height="2.40" fill="#9b98c8"/>
<rect x="217.92" y="241.70" width="2.10" height="2.40" fill="#e8528a"/>
<rect x="217.22" y="246.83" width="3.50" height="2.40" fill="#9b98c8"/>
<rect x="217.92" y="246.83" width="2.10" height="2.40" fill="#e8528a"/>
<rect x="222.18" y="236.57" width="3.50" height="2.40" fill="#9b98c8"/>
<rect x="222.88" y="236.57" width="2.10" height="2.40" fill="#e8528a"/>
<rect x="222.18" y="241.70" width="3.50" height="2.40" fill="#9b98c8"/>
<rect x="222.88" y="241.70" width="2.10" height="2.40" fill="#e8528a"/>
<rect x="222.18" y="246.83" width="3.50" height="2.40" fill="#9b98c8"/>
<rect x="222.88" y="246.83" width="2.10" height="2.40" fill="#e8528a"/>
<rect x="227.12" y="236.57" width="3.50" height="2.40" fill="#9b98c8"/>
<rect x="227.82" y="236.57" width="2.10" height="2.40" fill="#e8528a"/>
<rect x="227.12" y="241.70" width="3.50" height="2.40" fill="#9b98c8"/>
<rect x="227.82" y="241.70" width="2.10" height="2.40" fill="#e8528a"/>
<rect x="227.12" y="246.83" width="3.50" height="2.40" fill="#9b98c8"/>
<rect x="227.82" y="246.83" width="2.10" height="2.40" fill="#e8528a"/>
<rect x="232.07" y="236.57" width="3.50" height="2.40" fill="#9b98c8"/>
<rect x="232.77" y="236.57" width="2.10" height="2.40" fill="#e8528a"/>
<rect x="232.07" y="241.70" width="3.50" height="2.40" fill="#9b98c8"/>
<rect x="232.77" y="241.70" width="2.10" height="2.40" fill="#e8528a"/>
<rect x="232.07" y="246.83" width="3.50" height="2.40" fill="#9b98c8"/>
<rect x="232.77" y="246.83" width="2.10" height="2.40" fill="#e8528a"/>
<rect x="237.03" y="236.57" width="3.50" height="2.40" fill="#9b98c8"/>
<rect x="237.72" y="236.57" width="2.10" height="2.40" fill="#e8528a"/>
<rect x="237.03" y="241.70" width="3.50" height="2.40" fill="#9b98c8"/>
<rect x="237.72" y="241.70" width="2.10" height="2.40" fill="#e8528a"/>
<rect x="237.03" y="246.83" width="3.50" height="2.40" fill="#9b98c8"/>
<rect x="237.72" y="246.83" width="2.10" height="2.40" fill="#e8528a"/>
<rect x="241.97" y="236.57" width="3.50" height="2.40" fill="#9b98c8"/>
<rect x="242.67" y="236.57" width="2.10" height="2.40" fill="#e8528a"/>
<rect x="241.97" y="241.70" width="3.50" height="2.40" fill="#9b98c8"/>
<rect x="242.67" y="241.70" width="2.10" height="2.40" fill="#e8528a"/>
<rect x="241.97" y="246.83" width="3.50" height="2.40" fill="#9b98c8"/>
<rect x="242.67" y="246.83" width="2.10" height="2.40" fill="#e8528a"/>
<rect x="246.93" y="236.57" width="3.50" height="2.40" fill="#9b98c8"/>
<rect x="247.62" y="236.57" width="2.10" height="2.40" fill="#e8528a"/>
<rect x="246.93" y="241.70" width="3.50" height="2.40" fill="#9b98c8"/>
<rect x="247.62" y="241.70" width="2.10" height="2.40" fill="#e8528a"/>
<rect x="246.93" y="246.83" width="3.50" height="2.40" fill="#9b98c8"/>
<rect x="247.62" y="246.83" width="2.10" height="2.40" fill="#e8528a"/>
<rect x="251.88" y="236.57" width="3.50" height="2.40" fill="#9b98c8"/>
<rect x="252.57" y="236.57" width="2.10" height="2.40" fill="#e8528a"/>
<rect x="251.88" y="241.70" width="3.50" height="2.40" fill="#9b98c8"/>
<rect x="252.57" y="241.70" width="2.10" height="2.40" fill="#e8528a"/>
<rect x="251.88" y="246.83" width="3.50" height="2.40" fill="#9b98c8"/>
<rect x="252.57" y="246.83" width="2.10" height="2.40" fill="#e8528a"/>
<rect x="256.82" y="236.57" width="3.50" height="2.40" fill="#9b98c8"/>
<rect x="257.52" y="236.57" width="2.10" height="2.40" fill="#e8528a"/>
<rect x="256.82" y="241.70" width="3.50" height="2.40" fill="#9b98c8"/>
<rect x="257.52" y="241.70" width="2.10" height="2.40" fill="#e8528a"/>
<rect x="256.82" y="246.83" width="3.50" height="2.40" fill="#9b98c8"/>
<rect x="257.52" y="246.83" width="2.10" height="2.40" fill="#e8528a"/>
<rect x="261.77" y="236.57" width="3.50" height="2.40" fill="#9b98c8"/>
<rect x="262.47" y="236.57" width="2.10" height="2.40" fill="#e8528a"/>
<rect x="261.77" y="241.70" width="3.50" height="2.40" fill="#9b98c8"/>
<rect x="262.47" y="241.70" width="2.10" height="2.40" fill="#e8528a"/>
<rect x="261.77" y="246.83" width="3.50" height="2.40" fill="#9b98c8"/>
<rect x="262.47" y="246.83" width="2.10" height="2.40" fill="#e8528a"/>
<rect x="271.9" y="233" width="23.0" height="21.099999999999994" fill="#f7c6ef" stroke="#dc9a66" stroke-width="1"/>
<rect x="273.09999999999997" y="234.2" width="20.6" height="18.699999999999996" fill="none" stroke="#fde6f8" stroke-width="0.7"/>
<rect x="275.10" y="236.58" width="4.20" height="2.80" fill="#9b98c8"/>
<rect x="275.80" y="236.58" width="2.80" height="2.80" fill="#e8528a"/>
<rect x="275.10" y="242.15" width="4.20" height="2.80" fill="#9b98c8"/>
<rect x="275.80" y="242.15" width="2.80" height="2.80" fill="#e8528a"/>
<rect x="275.10" y="247.72" width="4.20" height="2.80" fill="#9b98c8"/>
<rect x="275.80" y="247.72" width="2.80" height="2.80" fill="#e8528a"/>
<rect x="281.30" y="236.58" width="4.20" height="2.80" fill="#9b98c8"/>
<rect x="282.00" y="236.58" width="2.80" height="2.80" fill="#e8528a"/>
<rect x="281.30" y="242.15" width="4.20" height="2.80" fill="#9b98c8"/>
<rect x="282.00" y="242.15" width="2.80" height="2.80" fill="#e8528a"/>
<rect x="281.30" y="247.72" width="4.20" height="2.80" fill="#9b98c8"/>
<rect x="282.00" y="247.72" width="2.80" height="2.80" fill="#e8528a"/>
<rect x="287.50" y="236.58" width="4.20" height="2.80" fill="#9b98c8"/>
<rect x="288.20" y="236.58" width="2.80" height="2.80" fill="#e8528a"/>
<rect x="287.50" y="242.15" width="4.20" height="2.80" fill="#9b98c8"/>
<rect x="288.20" y="242.15" width="2.80" height="2.80" fill="#e8528a"/>
<rect x="287.50" y="247.72" width="4.20" height="2.80" fill="#9b98c8"/>
<rect x="288.20" y="247.72" width="2.80" height="2.80" fill="#e8528a"/>
<rect x="194" y="257.3" width="66" height="12.2" fill="#f4d2f8"/>
<rect x="195.8" y="258.5" width="62.9" height="9.7" fill="#fbe0f4" stroke="#9a8ac8" stroke-width="0.7"/>
<rect x="197.3" y="260.4" width="3.6" height="5.4" fill="#c47ee8"/>
<rect x="202.7" y="260" width="50.9" height="6.4" fill="#f0567a"/>
<path d="M206.34,260 v6.4 M209.97,260 v6.4 M213.61,260 v6.4 M217.24,260 v6.4 M220.88,260 v6.4 M224.51,260 v6.4 M228.15,260 v6.4 M231.79,260 v6.4 M235.42,260 v6.4 M239.06,260 v6.4 M242.69,260 v6.4 M246.33,260 v6.4 M249.96,260 v6.4" stroke="#f7a0b8" stroke-width="0.6"/>
<rect x="254.5" y="262.4" width="3.7" height="1.4" fill="#c47ee8"/>
<rect x="264.9" y="257.3" width="18.7" height="12.2" fill="#f4d2f8"/>
<rect x="266.3" y="258.5" width="16.4" height="9.7" fill="#fbe0f4" stroke="#9a8ac8" stroke-width="0.7"/>
<rect x="267.3" y="260.4" width="3.6" height="5.4" fill="#c47ee8"/>
<rect x="272.2" y="260.2" width="4.8" height="6.2" fill="#f0506e"/>
<rect x="278" y="262.4" width="3.8" height="1.4" fill="#c47ee8"/>
<path d="M210.8,265.3 L235.3,276 H245.5" stroke="#222" stroke-width="0.9" fill="none"/>
<text x="249" y="279.8" font-size="10.3" font-family="'DejaVu Sans', sans-serif" fill="#262626" text-anchor="start" textLength="24" lengthAdjust="spacingAndGlyphs" stroke="#262626" stroke-width="0.25" >C<tspan font-size="7.2" dy="2.00">mem</tspan></text>
<text x="320" y="14.4" font-size="11.8" font-family="'DejaVu Sans', sans-serif" fill="#262626" text-anchor="start" stroke="#262626" stroke-width="0.25" >b)</text>
<line x1="385.5" y1="17.4" x2="385.5" y2="119.6" stroke="#8c8c8c" stroke-width="1" stroke-dasharray="4,2.5"/>
<line x1="456.4" y1="17.4" x2="456.4" y2="119.6" stroke="#8c8c8c" stroke-width="1" stroke-dasharray="4,2.5"/>
<clipPath id="cb"><rect x="357.2" y="17.4" width="184" height="102.2"/></clipPath>
<g clip-path="url(#cb)">
<g fill="#1a88ec" stroke="#1478d8" stroke-width="0.5"><circle cx="358.0" cy="86.24" r="3.25"/><circle cx="362.2" cy="85.59" r="3.25"/><circle cx="366.4" cy="84.93" r="3.25"/><circle cx="370.6" cy="84.27" r="3.25"/><circle cx="374.8" cy="83.61" r="3.25"/><circle cx="379.0" cy="82.96" r="3.25"/><circle cx="383.2" cy="82.22" r="3.25"/><circle cx="387.4" cy="81.47" r="3.25"/><circle cx="391.6" cy="80.71" r="3.25"/><circle cx="395.8" cy="79.96" r="3.25"/><circle cx="400.0" cy="79.20" r="3.25"/><circle cx="404.2" cy="78.42" r="3.25"/><circle cx="408.4" cy="77.65" r="3.25"/><circle cx="412.6" cy="76.87" r="3.25"/><circle cx="416.8" cy="76.09" r="3.25"/><circle cx="421.0" cy="75.25" r="3.25"/><circle cx="425.2" cy="74.20" r="3.25"/><circle cx="429.4" cy="73.15" r="3.25"/><circle cx="433.6" cy="72.10" r="3.25"/><circle cx="437.8" cy="71.05" r="3.25"/><circle cx="442.0" cy="69.96" r="3.25"/><circle cx="446.2" cy="68.83" r="3.25"/><circle cx="450.4" cy="67.69" r="3.25"/><circle cx="454.6" cy="66.56" r="3.25"/><circle cx="458.8" cy="65.42" r="3.25"/><circle cx="463.0" cy="64.68" r="3.25"/><circle cx="467.2" cy="64.09" r="3.25"/><circle cx="471.4" cy="63.50" r="3.25"/><circle cx="475.6" cy="62.92" r="3.25"/><circle cx="479.8" cy="62.33" r="3.25"/><circle cx="484.0" cy="61.68" r="3.25"/><circle cx="488.2" cy="61.03" r="3.25"/><circle cx="492.4" cy="60.38" r="3.25"/><circle cx="496.6" cy="59.73" r="3.25"/><circle cx="500.8" cy="59.11" r="3.25"/><circle cx="505.0" cy="58.65" r="3.25"/><circle cx="509.2" cy="58.19" r="3.25"/><circle cx="513.4" cy="57.73" r="3.25"/><circle cx="517.6" cy="57.26" r="3.25"/><circle cx="521.8" cy="56.83" r="3.25"/><circle cx="526.0" cy="56.43" r="3.25"/><circle cx="530.2" cy="56.03" r="3.25"/><circle cx="534.4" cy="55.63" r="3.25"/><circle cx="538.6" cy="55.23" r="3.25"/></g>
<polyline points="385.0,81.90 400.0,79.20 420.0,75.50 440.0,70.50 460.0,65.10 480.0,62.30 500.0,59.20 520.0,57.00 541.0,55.00" fill="none" stroke="#0808f0" stroke-width="2.4" stroke-dasharray="6,3"/>
<line x1="357.2" y1="52.5" x2="541.2" y2="52.5" stroke="#111" stroke-width="1.4" stroke-dasharray="4.5,2.5"/>
<line x1="357.2" y1="59.4" x2="541.2" y2="59.4" stroke="#111" stroke-width="1.4" stroke-dasharray="4.5,2.5"/>
<g fill="#f51010" stroke="#e00808" stroke-width="0.5"><circle cx="358.0" cy="62.62" r="3.35"/><circle cx="362.2" cy="62.07" r="3.35"/><circle cx="366.4" cy="61.53" r="3.35"/><circle cx="370.6" cy="60.98" r="3.35"/><circle cx="374.8" cy="60.43" r="3.35"/><circle cx="379.0" cy="59.88" r="3.35"/><circle cx="383.2" cy="59.34" r="3.35"/><circle cx="387.4" cy="58.79" r="3.35"/><circle cx="391.6" cy="58.24" r="3.35"/><circle cx="395.8" cy="57.72" r="3.35"/><circle cx="400.0" cy="57.33" r="3.35"/><circle cx="404.2" cy="56.94" r="3.35"/><circle cx="408.4" cy="56.54" r="3.35"/><circle cx="412.6" cy="56.15" r="3.35"/><circle cx="416.8" cy="55.75" r="3.35"/><circle cx="421.0" cy="55.36" r="3.35"/><circle cx="425.2" cy="54.96" r="3.35"/><circle cx="429.4" cy="54.57" r="3.35"/><circle cx="433.6" cy="54.17" r="3.35"/><circle cx="437.8" cy="53.78" r="3.35"/><circle cx="442.0" cy="53.38" r="3.35"/><circle cx="446.2" cy="53.04" r="3.35"/><circle cx="450.4" cy="52.81" r="3.35"/><circle cx="454.6" cy="52.59" r="3.35"/><circle cx="458.8" cy="52.36" r="3.35"/><circle cx="463.0" cy="52.31" r="3.35"/><circle cx="467.2" cy="52.32" r="3.35"/><circle cx="471.4" cy="52.33" r="3.35"/><circle cx="475.6" cy="52.34" r="3.35"/><circle cx="479.8" cy="52.36" r="3.35"/><circle cx="484.0" cy="52.37" r="3.35"/><circle cx="488.2" cy="52.38" r="3.35"/><circle cx="492.4" cy="52.39" r="3.35"/><circle cx="496.6" cy="52.40" r="3.35"/><circle cx="500.8" cy="52.40" r="3.35"/><circle cx="505.0" cy="52.40" r="3.35"/><circle cx="509.2" cy="52.40" r="3.35"/><circle cx="513.4" cy="52.40" r="3.35"/><circle cx="517.6" cy="52.40" r="3.35"/><circle cx="521.8" cy="52.40" r="3.35"/><circle cx="526.0" cy="52.40" r="3.35"/><circle cx="530.2" cy="52.20" r="3.35"/><circle cx="534.4" cy="51.81" r="3.35"/><circle cx="538.6" cy="51.42" r="3.35"/></g>
<polyline points="385.0,59.10 395.0,57.80 445.0,53.10 460.0,52.30 495.0,52.40 528.0,52.40 541.0,51.20" fill="none" stroke="#a00808" stroke-width="1.4" stroke-dasharray="4,5" opacity="0.55"/>
</g>
<path d="M458.5,28.2 H452.1 L438.7,52" stroke="#ff3030" stroke-width="0.8" fill="none"/>
<path d="M460.2,41.3 H456.7 L440,70.3" stroke="#2090e0" stroke-width="0.8" fill="none"/>
<text x="461.7" y="30.2" font-size="9.3" font-family="'DejaVu Sans', sans-serif" fill="#262626" text-anchor="start" textLength="46.3" lengthAdjust="spacingAndGlyphs" stroke="#262626" stroke-width="0.25" >V<tspan font-size="6.4" dy="1.80">s</tspan><tspan dy="-1.80">=0.15 V</tspan></text>
<text x="463.1" y="43" font-size="9.3" font-family="'DejaVu Sans', sans-serif" fill="#262626" text-anchor="start" textLength="46" lengthAdjust="spacingAndGlyphs" stroke="#262626" stroke-width="0.25" >V<tspan font-size="6.4" dy="1.80">s</tspan><tspan dy="-1.80">=0.22 V</tspan></text>
<line x1="443" y1="87.3" x2="452.4" y2="87.3" stroke="#222" stroke-width="1" stroke-dasharray="2.8,2"/>
<line x1="443" y1="98.7" x2="452.4" y2="98.7" stroke="#5050ff" stroke-width="1"/>
<line x1="443" y1="110.2" x2="452.4" y2="110.2" stroke="#ff5050" stroke-width="1"/>
<text x="455.6" y="89.9" font-size="9" font-family="'DejaVu Sans', sans-serif" fill="#262626" text-anchor="start" textLength="60.7" lengthAdjust="spacingAndGlyphs" stroke="#262626" stroke-width="0.25" >SDF Constant</text>
<text x="455.6" y="101.4" font-size="9" font-family="'DejaVu Sans', sans-serif" fill="#262626" text-anchor="start" textLength="84.6" lengthAdjust="spacingAndGlyphs" stroke="#262626" stroke-width="0.25" >SDF Non-linear (1)</text>
<text x="455.6" y="112.8" font-size="9" font-family="'DejaVu Sans', sans-serif" fill="#262626" text-anchor="start" textLength="84.6" lengthAdjust="spacingAndGlyphs" stroke="#262626" stroke-width="0.25" >SDF Non-linear (2)</text>
<text x="411.4" y="106.2" font-size="9.8" font-family="'Liberation Serif', serif" fill="#262626" text-anchor="start" textLength="13.9" lengthAdjust="spacingAndGlyphs" stroke="#262626" stroke-width="0.25" >I<tspan font-size="6.8" dy="1.90" font-family="'DejaVu Sans', sans-serif">syn</tspan></text>
<rect x="357.2" y="17.4" width="184" height="102.2" fill="none" stroke="#222" stroke-width="1"/>
<path d="M365.9,119.6 v-2 M365.9,17.4 v2 M372.8,119.6 v-2 M372.8,17.4 v2 M378.1,119.6 v-2 M378.1,17.4 v2 M382.4,119.6 v-2 M382.4,17.4 v2 M386.1,119.6 v-2 M386.1,17.4 v2 M389.3,119.6 v-2 M389.3,17.4 v2 M392.1,119.6 v-2 M392.1,17.4 v2 M394.6,119.6 v-3.5 M394.6,17.4 v3.5 M411.1,119.6 v-2 M411.1,17.4 v2 M420.8,119.6 v-2 M420.8,17.4 v2 M427.7,119.6 v-2 M427.7,17.4 v2 M433.0,119.6 v-2 M433.0,17.4 v2 M437.3,119.6 v-2 M437.3,17.4 v2 M441.0,119.6 v-2 M441.0,17.4 v2 M444.2,119.6 v-2 M444.2,17.4 v2 M447.0,119.6 v-2 M447.0,17.4 v2 M449.5,119.6 v-3.5 M449.5,17.4 v3.5 M466.0,119.6 v-2 M466.0,17.4 v2 M475.7,119.6 v-2 M475.7,17.4 v2 M482.6,119.6 v-2 M482.6,17.4 v2 M487.9,119.6 v-2 M487.9,17.4 v2 M492.2,119.6 v-2 M492.2,17.4 v2 M495.9,119.6 v-2 M495.9,17.4 v2 M499.1,119.6 v-2 M499.1,17.4 v2 M501.9,119.6 v-2 M501.9,17.4 v2 M504.4,119.6 v-3.5 M504.4,17.4 v3.5 M520.9,119.6 v-2 M520.9,17.4 v2 M530.6,119.6 v-2 M530.6,17.4 v2 M537.5,119.6 v-2 M537.5,17.4 v2 M357.2,116.2 h2 M541.2,116.2 h-2 M357.2,112.9 h3.5 M541.2,112.9 h-3.5 M357.2,90.9 h2 M541.2,90.9 h-2 M357.2,78.0 h2 M541.2,78.0 h-2 M357.2,68.8 h2 M541.2,68.8 h-2 M357.2,61.7 h2 M541.2,61.7 h-2 M357.2,55.9 h2 M541.2,55.9 h-2 M357.2,51.0 h2 M541.2,51.0 h-2 M357.2,46.8 h2 M541.2,46.8 h-2 M357.2,43.0 h2 M541.2,43.0 h-2 M357.2,39.7 h3.5 M541.2,39.7 h-3.5 M357.2,17.7 h2 M541.2,17.7 h-2" stroke="#222" stroke-width="0.7" fill="none"/>
<text x="386.3" y="132.7" font-size="11.2" font-family="'Liberation Serif', serif" fill="#262626" text-anchor="start" textLength="18.2" lengthAdjust="spacingAndGlyphs" stroke="#262626" stroke-width="0.25" >10<tspan font-size="6.4" dy="-6" stroke-width="0.1">−7</tspan></text>
<text x="441.3" y="132.7" font-size="11.2" font-family="'Liberation Serif', serif" fill="#262626" text-anchor="start" textLength="18.2" lengthAdjust="spacingAndGlyphs" stroke="#262626" stroke-width="0.25" >10<tspan font-size="6.4" dy="-6" stroke-width="0.1">−6</tspan></text>
<text x="496.2" y="132.7" font-size="11.2" font-family="'Liberation Serif', serif" fill="#262626" text-anchor="start" textLength="18.2" lengthAdjust="spacingAndGlyphs" stroke="#262626" stroke-width="0.25" >10<tspan font-size="6.4" dy="-6" stroke-width="0.1">−5</tspan></text>
<text x="339" y="43.4" font-size="11.2" font-family="'Liberation Serif', serif" fill="#262626" text-anchor="start" textLength="15" lengthAdjust="spacingAndGlyphs" stroke="#262626" stroke-width="0.25" >10<tspan font-size="6.6" dy="-5.6">4</tspan></text>
<text x="339" y="117.4" font-size="11.2" font-family="'Liberation Serif', serif" fill="#262626" text-anchor="start" textLength="14" lengthAdjust="spacingAndGlyphs" stroke="#262626" stroke-width="0.25" >10<tspan font-size="6.6" dy="-5.6">3</tspan></text>
<text x="435.6" y="145.6" font-size="10" font-family="'Liberation Serif', serif" fill="#262626" text-anchor="start" textLength="25.4" lengthAdjust="spacingAndGlyphs" stroke="#262626" stroke-width="0.25" >I<tspan font-size="6.6" dy="1.60" font-family="'DejaVu Sans', sans-serif">in</tspan><tspan dy="-1.60" font-family="'DejaVu Sans', sans-serif" font-size="9"> (A)</tspan></text>
<text transform="translate(334.8,95.3) rotate(-90)" font-size="9.9" font-family="'Liberation Serif', serif" fill="#262626" stroke="#262626" stroke-width="0.25" textLength="52.3" lengthAdjust="spacingAndGlyphs">I<tspan font-size="6.3" dy="1.8" font-family="'DejaVu Sans', sans-serif">in</tspan><tspan dy="-1.8">/I</tspan><tspan font-size="6.3" dy="1.8" font-family="'DejaVu Sans', sans-serif">out</tspan><tspan dy="-1.8" font-family="'DejaVu Sans', sans-serif" font-size="8.8">=SDF</tspan></text>
<text x="319" y="188.7" font-size="11.8" font-family="'DejaVu Sans', sans-serif" fill="#262626" text-anchor="start" stroke="#262626" stroke-width="0.25" >c)</text>
<line x1="359.2" y1="213.3" x2="543.7" y2="213.3" stroke="#d0d0d0" stroke-width="0.8"/>
<line x1="359.2" y1="235.5" x2="543.7" y2="235.5" stroke="#d0d0d0" stroke-width="0.8"/>
<line x1="359.2" y1="257.6" x2="543.7" y2="257.6" stroke="#d0d0d0" stroke-width="0.8"/>
<line x1="402.8" y1="193.8" x2="402.8" y2="269.6" stroke="#d0d0d0" stroke-width="0.8"/>
<line x1="521.4" y1="193.8" x2="521.4" y2="269.6" stroke="#d0d0d0" stroke-width="0.8"/>
<polyline points="367.4,210 381.4,208.5 401.4,208.5 432.8,205.8 535.3,197.9" fill="none" stroke="#9a9a9a" stroke-width="0.9" stroke-dasharray="3.5,2"/>
<polyline points="367.4,218.5 381.4,218.2 401.4,217.3 432.8,214.5 535.3,206.6" fill="none" stroke="#9a9a9a" stroke-width="0.9" stroke-dasharray="3.5,2"/>
<polyline points="367.4,265.7 381.4,265.7 401.4,265.7 432.8,265.7 535.3,265.7" fill="none" stroke="#9a9a9a" stroke-width="0.9" stroke-dasharray="3.5,2"/>
<circle cx="367.4" cy="210" r="3.1" fill="#000004" stroke="#222" stroke-width="0.6"/>
<circle cx="381.4" cy="208.5" r="3.1" fill="#1c1046" stroke="#222" stroke-width="0.6"/>
<circle cx="401.4" cy="208.5" r="3.1" fill="#381070" stroke="#222" stroke-width="0.6"/>
<circle cx="432.8" cy="205.8" r="3.1" fill="#8c2981" stroke="#222" stroke-width="0.6"/>
<circle cx="535.3" cy="197.9" r="3.1" fill="#fbf5bd" stroke="#222" stroke-width="0.6"/>
<circle cx="367.4" cy="218.5" r="3.1" fill="#000004" stroke="#222" stroke-width="0.6"/>
<circle cx="381.4" cy="218.2" r="3.1" fill="#1c1046" stroke="#222" stroke-width="0.6"/>
<circle cx="401.4" cy="217.3" r="3.1" fill="#381070" stroke="#222" stroke-width="0.6"/>
<circle cx="432.8" cy="214.5" r="3.1" fill="#8c2981" stroke="#222" stroke-width="0.6"/>
<circle cx="535.3" cy="206.6" r="3.1" fill="#fbf5bd" stroke="#222" stroke-width="0.6"/>
<circle cx="367.4" cy="265.7" r="3.1" fill="#000004" stroke="#222" stroke-width="0.6"/>
<circle cx="381.4" cy="265.7" r="3.1" fill="#1c1046" stroke="#222" stroke-width="0.6"/>
<circle cx="401.4" cy="265.7" r="3.1" fill="#381070" stroke="#222" stroke-width="0.6"/>
<circle cx="432.8" cy="265.7" r="3.1" fill="#8c2981" stroke="#222" stroke-width="0.6"/>
<circle cx="535.3" cy="265.7" r="3.1" fill="#fbf5bd" stroke="#222" stroke-width="0.6"/>
<path d="M484.2,225.9 H487.7 V201.2 M447,213.4 V234.6 H450.4 M448.2,244.2 H450.6 M448.2,244.2 V265.6" stroke="#333" stroke-width="0.8" fill="none"/>
<text x="451" y="228.7" font-size="8.7" font-family="'DejaVu Sans', sans-serif" fill="#262626" text-anchor="start" textLength="31.6" lengthAdjust="spacingAndGlyphs" stroke="#262626" stroke-width="0.25" >Neuron</text>
<text x="450.5" y="238.4" font-size="8.7" font-family="'DejaVu Sans', sans-serif" fill="#262626" text-anchor="start" textLength="82.1" lengthAdjust="spacingAndGlyphs" stroke="#262626" stroke-width="0.25" >Current attenuator</text>
<text x="451.2" y="247.6" font-size="8.7" font-family="'DejaVu Sans', sans-serif" fill="#262626" text-anchor="start" textLength="18.3" lengthAdjust="spacingAndGlyphs" stroke="#262626" stroke-width="0.25" >LDO</text>
<rect x="359.2" y="193.8" width="184.50000000000006" height="75.80000000000001" fill="none" stroke="#222" stroke-width="0.9"/>
<path d="M367.1,193.8 v-2 M376.5,193.8 v-2 M384.4,193.8 v-2 M391.3,193.8 v-2 M397.4,193.8 v-2 M402.8,193.8 v-3.5 M438.5,193.8 v-2 M459.4,193.8 v-2 M474.2,193.8 v-2 M485.7,193.8 v-2 M495.1,193.8 v-2 M503.0,193.8 v-2 M509.9,193.8 v-2 M516.0,193.8 v-2 M521.4,193.8 v-3.5 M359.2,213.3 h-3.5 M359.2,235.5 h-3.5 M359.2,257.6 h-3.5" stroke="#222" stroke-width="0.7" fill="none"/>
<text x="393" y="186.6" font-size="9" font-family="'DejaVu Sans', sans-serif" fill="#262626" text-anchor="start" textLength="19.6" lengthAdjust="spacingAndGlyphs" stroke="#262626" stroke-width="0.25" >10<tspan font-size="6.5" dy="-4">−7</tspan></text>
<text x="510.5" y="186.2" font-size="9" font-family="'DejaVu Sans', sans-serif" fill="#262626" text-anchor="start" textLength="20.5" lengthAdjust="spacingAndGlyphs" stroke="#262626" stroke-width="0.25" >10<tspan font-size="6.5" dy="-4">−6</tspan></text>
<text x="435.8" y="182.4" font-size="9.6" font-family="'Liberation Serif', serif" fill="#262626" text-anchor="start" textLength="25.2" lengthAdjust="spacingAndGlyphs" stroke="#262626" stroke-width="0.25" >I<tspan font-size="6" dy="1.60" font-family="'DejaVu Sans', sans-serif">in</tspan><tspan dy="-1.60" font-family="'DejaVu Sans', sans-serif"> (A)</tspan></text>
<text x="337.4" y="217.8" font-size="9" font-family="'DejaVu Sans', sans-serif" fill="#262626" text-anchor="start" textLength="15.9" lengthAdjust="spacingAndGlyphs" stroke="#262626" stroke-width="0.25" >10<tspan font-size="6.5" dy="-4">0</tspan></text>
<text x="331.8" y="239.9" font-size="9" font-family="'DejaVu Sans', sans-serif" fill="#262626" text-anchor="start" textLength="21.5" lengthAdjust="spacingAndGlyphs" stroke="#262626" stroke-width="0.25" >10<tspan font-size="6.5" dy="-4">−2</tspan></text>
<text x="331.8" y="262.2" font-size="9" font-family="'DejaVu Sans', sans-serif" fill="#262626" text-anchor="start" textLength="21.5" lengthAdjust="spacingAndGlyphs" stroke="#262626" stroke-width="0.25" >10<tspan font-size="6.5" dy="-4">−4</tspan></text>
<text transform="translate(325.6,261.2) rotate(-90)" font-size="9.6" font-family="'DejaVu Sans', sans-serif" fill="#262626" textLength="55.8" lengthAdjust="spacingAndGlyphs">Power (<tspan font-style="italic">μ</tspan>W)</text>
<defs><linearGradient id="mg"><stop offset="0.0" stop-color="#000004"/><stop offset="0.1" stop-color="#140e36"/><stop offset="0.2" stop-color="#3b0f70"/><stop offset="0.3" stop-color="#641a80"/><stop offset="0.4" stop-color="#8c2981"/><stop offset="0.5" stop-color="#b73779"/><stop offset="0.6" stop-color="#de4968"/><stop offset="0.7" stop-color="#f7705c"/><stop offset="0.8" stop-color="#fe9f6d"/><stop offset="0.9" stop-color="#fecf92"/><stop offset="1.0" stop-color="#fcfdbf"/></linearGradient></defs>
<rect x="358.8" y="281" width="185.1" height="9.6" fill="url(#mg)" stroke="#222" stroke-width="0.8"/>
<path d="M363.0,290.6 v3.5 M397.4,290.6 v2 M424.0,290.6 v2 M445.8,290.6 v2 M464.2,290.6 v2 M480.1,290.6 v2 M494.2,290.6 v2 M506.8,290.6 v3.5" stroke="#222" stroke-width="0.7" fill="none"/>
<text x="347" y="302.6" font-size="9" font-family="'DejaVu Sans', sans-serif" fill="#262626" text-anchor="start" textLength="32.4" lengthAdjust="spacingAndGlyphs" stroke="#262626" stroke-width="0.25" >3 × 10<tspan font-size="6.5" dy="-4">3</tspan></text>
<text x="499.4" y="302.6" font-size="9" font-family="'DejaVu Sans', sans-serif" fill="#262626" text-anchor="start" textLength="15.4" lengthAdjust="spacingAndGlyphs" stroke="#262626" stroke-width="0.25" >10<tspan font-size="6.5" dy="-4">4</tspan></text>
<text x="414" y="317.9" font-size="9.8" font-family="'DejaVu Sans', sans-serif" fill="#262626" text-anchor="start" textLength="74.6" lengthAdjust="spacingAndGlyphs" stroke="#262626" stroke-width="0.12" >Frequency (Hz)</text>
</svg>
</body></html>
